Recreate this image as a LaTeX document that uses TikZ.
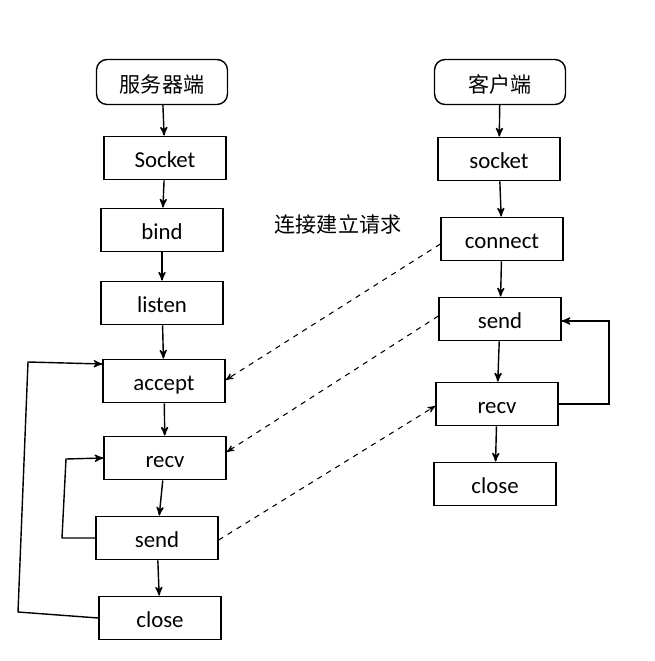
\documentclass[tikz,border=0pt]{standalone}
\usepackage{fontspec}
\setmainfont{Carlito}
\newfontfamily\cjk{Noto Sans CJK SC}
\usetikzlibrary{arrows}
\begin{document}
\begin{tikzpicture}[x=0.02cm,y=-0.02cm,->,>=stealth',thick,
  box/.style={draw,minimum width=2.44cm,minimum height=0.87cm,font=\fontsize{13}{15}\selectfont,inner sep=0pt,text height=2.2ex,text depth=0pt},
  head/.style={box,rounded corners=6pt,minimum width=2.62cm,minimum height=0.9cm,font=\cjk\large,text height=2.4ex},
  req/.style={dashed,semithick}]
\useasboundingbox (0,0) rectangle (654,661);
\node[head](S)at(162,82){服务器端};
\node[box](S1)at(165,158){Socket};
\node[box](S2)at(162,230){bind};
\node[box](S3)at(162,303){listen};
\node[box](S4)at(164,381){accept};
\node[box](S5)at(165,458){recv};
\node[box](S6)at(157,538){send};
\node[box](S7)at(160,618){close};
\node[head](C)at(500,82){客户端};
\node[box](C1)at(499,159){socket};
\node[box](C2)at(502,239){connect};
\node[box](C3)at(500,319){send};
\node[box](C4)at(497,404){recv};
\node[box](C5)at(495,484){close};
\node[font=\cjk\large,anchor=center]at(338,224){连接建立请求};
\path (S) edge (S1) (S1) edge (S2) (S2) edge (S3) (S3) edge (S4)
  (S4) edge (S5) (S5) edge (S6) (S6) edge (S7);
\path (C) edge (C1) (C1) edge (C2) (C2) edge (C3) (C3) edge (C4) (C4) edge (C5);
\draw (S7.west) -- (18,612) -- (28,362) -- (S4.west |- 0,364);
\draw (S6.west) -- (62,538) -- (66,459) -- (S5.west);
\draw (C4.east) -- (609,404) -- (609,321) -- (C3.east |- 0,321);
\draw[req] (C2.west |- 0,244) -- (S4.east |- 0,380);
\draw[req] (C3.west |- 0,316) -- (S5.east |- 0,452);
\draw[req] (S6.east |- 0,540) -- (C4.west |- 0,406);
\end{tikzpicture}
\end{document}
